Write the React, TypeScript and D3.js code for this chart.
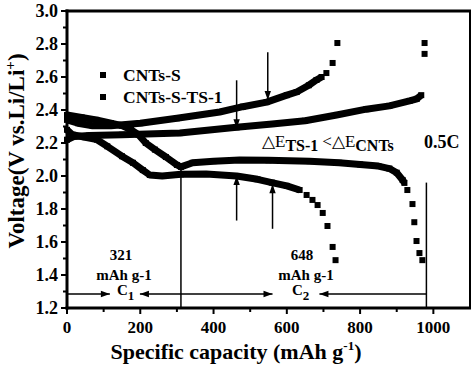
import React from 'react';
import * as d3 from 'd3';

const W = 474;
const H = 366;

// ---- data (capacity mAh/g, voltage V) ----
const xTicks = [0, 200, 400, 600, 800, 1000];
const xMinorTicks = [100, 300, 500, 700, 900];
const yTicks = [1.2, 1.4, 1.6, 1.8, 2.0, 2.2, 2.4, 2.6, 2.8, 3.0];
const yMinorTicks = [1.3, 1.5, 1.7, 1.9, 2.1, 2.3, 2.5, 2.7, 2.9];

// CNTs-S discharge
const cntsDisBand: [number, number][] = [
  [0, 2.28], [15, 2.25], [50, 2.235], [82, 2.22], [110, 2.18], [150, 2.12], [180, 2.08],
  [207, 2.036], [226, 2.006], [260, 2.0], [311, 2.01], [380, 2.012], [463, 2.0],
  [520, 1.98], [559, 1.96], [600, 1.94], [635, 1.915],
];
const cntsDisTail: [number, number][] = [
  [654, 1.885], [670, 1.855], [684, 1.824], [698, 1.776], [711, 1.697], [725, 1.57], [733, 1.49],
];
// CNTs-S charge
const cntsChgBand: [number, number][] = [
  [0, 2.34], [30, 2.32], [70, 2.305], [120, 2.305], [200, 2.32], [300, 2.35], [417, 2.388],
  [480, 2.42], [545, 2.448], [600, 2.49], [627, 2.509], [660, 2.55], [681, 2.582], [695, 2.6],
];
const cntsChgTail: [number, number][] = [
  [708, 2.624], [725, 2.685], [738, 2.806],
];
// CNTs-S-TS-1 discharge
const tsDisBand: [number, number][] = [
  [0, 2.37], [40, 2.355], [80, 2.34], [120, 2.32], [150, 2.305], [175, 2.28], [195, 2.25],
  [215, 2.2], [240, 2.16], [270, 2.115], [300, 2.067], [311, 2.055], [343, 2.08], [400, 2.09],
  [471, 2.097], [550, 2.095], [662, 2.09], [743, 2.08], [800, 2.07], [850, 2.06], [880, 2.045],
  [900, 2.02], [916, 1.976], [921, 1.958],
];
const tsDisTail: [number, number][] = [
  [929, 1.915], [943, 1.83], [948, 1.72], [954, 1.606], [962, 1.533], [970, 1.49],
];
// CNTs-S-TS-1 charge
const tsChgBand: [number, number][] = [
  [0, 2.22], [20, 2.24], [60, 2.245], [150, 2.25], [308, 2.26], [463, 2.295], [560, 2.315],
  [650, 2.335], [736, 2.37], [817, 2.405], [880, 2.425], [935, 2.455], [955, 2.468], [967, 2.49],
];
const tsChgTail: [number, number][] = [
  [976, 2.74], [976, 2.806],
];

const legendLabels = ['CNTs-S', 'CNTs-S-TS-1'];

// vertical marker arrows: [capacity, fromV, toV]
const arrows: [number, number, number][] = [
  [463, 2.58, 2.29],
  [548, 2.75, 2.46],
  [463, 1.73, 2.0],
  [561, 1.68, 1.95],
];
// capacity boundary lines
const boundaries: [number, number][] = [
  [311, 2.06],
  [981, 1.96],
];
// horizontal capacity arrows: [from, to] at V = 1.285
const capArrowV = 1.285;
const capArrows: [number, number][] = [
  [0, 117],
  [311, 199],
  [311, 561],
  [981, 689],
];

export default function App() {
  const x = d3.scaleLinear().domain([0, 1100]).range([67, 470]);
  const y = d3.scaleLinear().domain([1.2, 3.0]).range([308, 11]);
  const line = d3
    .line<[number, number]>()
    .x((d) => x(d[0]))
    .y((d) => y(d[1]));

  const bands = [cntsDisBand, cntsChgBand, tsDisBand, tsChgBand];
  const dots = [
    ...cntsDisBand, ...cntsDisTail, ...cntsChgBand, ...cntsChgTail,
    ...tsDisBand, ...tsDisTail, ...tsChgBand, ...tsChgTail,
  ];
  const sq = 6;
  const font = '"Liberation Serif", "Times New Roman", serif';

  const arrowHead = (tx: number, ty: number, dir: 'up' | 'down' | 'left' | 'right', key: string) => {
    const L = 9;
    const h = 3.2;
    let pts = '';
    if (dir === 'down') pts = `${tx},${ty} ${tx - h},${ty - L} ${tx + h},${ty - L}`;
    if (dir === 'up') pts = `${tx},${ty} ${tx - h},${ty + L} ${tx + h},${ty + L}`;
    if (dir === 'right') pts = `${tx},${ty} ${tx - L},${ty - h} ${tx - L},${ty + h}`;
    if (dir === 'left') pts = `${tx},${ty} ${tx + L},${ty - h} ${tx + L},${ty + h}`;
    return <polygon key={key} points={pts} fill="#000" />;
  };

  return (
    <svg
      width={W}
      height={H}
      style={{ position: 'absolute', left: 0, top: 0, background: '#fff' }}
      fontFamily={font}
    >
      <rect x={0} y={0} width={W} height={H} fill="#fff" />

      {/* bands */}
      {bands.map((b, i) => (
        <path key={'b' + i} d={line(b) || ''} fill="none" stroke="#000" strokeWidth={7} strokeLinejoin="round" />
      ))}
      {dots.map((d, i) => (
        <rect key={'d' + i} x={x(d[0]) - sq / 2} y={y(d[1]) - sq / 2} width={sq} height={sq} fill="#000" />
      ))}

      {/* boundary lines */}
      {boundaries.map((b, i) => (
        <line key={'bl' + i} x1={x(b[0])} x2={x(b[0])} y1={y(1.2)} y2={y(b[1])} stroke="#000" strokeWidth={1.5} />
      ))}

      {/* capacity arrows */}
      {capArrows.map((a, i) => {
        const dir = a[1] > a[0] ? 'right' : 'left';
        return (
          <g key={'ca' + i}>
            <line x1={x(a[0])} x2={x(a[1])} y1={y(capArrowV)} y2={y(capArrowV)} stroke="#000" strokeWidth={1.5} />
            {arrowHead(x(a[1]), y(capArrowV), dir, 'cah' + i)}
          </g>
        );
      })}

      {/* vertical arrows */}
      {arrows.map((a, i) => {
        const dir = a[2] < a[1] ? 'down' : 'up';
        return (
          <g key={'va' + i}>
            <line x1={x(a[0])} x2={x(a[0])} y1={y(a[1])} y2={y(a[2])} stroke="#000" strokeWidth={1.5} />
            {arrowHead(x(a[0]), y(a[2]), dir, 'vah' + i)}
          </g>
        );
      })}

      {/* frame */}
      <rect x={67} y={11} width={403} height={297} fill="none" stroke="#000" strokeWidth={2} />
      <line x1={67} x2={67} y1={9.5} y2={309.5} stroke="#000" strokeWidth={3} />
      <line x1={65.5} x2={471} y1={308} y2={308} stroke="#000" strokeWidth={3} />
      <line x1={65.5} x2={471} y1={11} y2={11} stroke="#000" strokeWidth={3} />

      {/* ticks */}
      {yTicks.map((t) => (
        <g key={'yt' + t}>
          <line x1={61} x2={67} y1={y(t)} y2={y(t)} stroke="#000" strokeWidth={2} />
          <text x={58} y={y(t)} dy="0.35em" textAnchor="end" fontSize={18} fontWeight="bold">
            {t.toFixed(1)}
          </text>
        </g>
      ))}
      {yMinorTicks.map((t) => (
        <line key={'ym' + t} x1={63} x2={67} y1={y(t)} y2={y(t)} stroke="#000" strokeWidth={2} />
      ))}
      {xTicks.map((t) => (
        <g key={'xt' + t}>
          <line x1={x(t)} x2={x(t)} y1={308} y2={314} stroke="#000" strokeWidth={2} />
          <text x={x(t)} y={333} textAnchor="middle" fontSize={17} fontWeight="bold">
            {t}
          </text>
        </g>
      ))}
      {xMinorTicks.map((t) => (
        <line key={'xm' + t} x1={x(t)} x2={x(t)} y1={308} y2={312} stroke="#000" strokeWidth={2} />
      ))}

      {/* axis titles */}
      <text x={236} y={359} textAnchor="middle" fontSize={22} fontWeight="bold">
        Specific capacity (mAh g<tspan dy={-9} fontSize={13}>-1</tspan>
        <tspan dy={9}>)</tspan>
      </text>
      <text transform="translate(24,151) rotate(-90)" textAnchor="middle" fontSize={23} fontWeight="bold">
        Voltage(V vs.Li/Li<tspan dy={-9} fontSize={15}>+</tspan>
        <tspan dy={9}>)</tspan>
      </text>

      {/* legend */}
      {legendLabels.map((l, i) => (
        <g key={'lg' + i}>
          <rect x={100} y={72 + i * 22} width={6} height={6} fill="#000" />
          <text x={123} y={81 + i * 22} fontSize={17.5} fontWeight="bold">
            {l}
          </text>
        </g>
      ))}

      {/* delta E annotation */}
      <text x={262} y={147} fontSize={17}>
        △E<tspan dy={4} fontSize={16} fontWeight="bold">TS-1</tspan>
        <tspan dy={-4} dx={4}>&lt;△E</tspan>
        <tspan dy={4} fontSize={16} fontWeight="bold">CNTs</tspan>
      </text>
      <text x={424} y={148} fontSize={18} fontWeight="bold">
        0.5C
      </text>

      {/* capacity labels */}
      <text x={121} y={260} textAnchor="middle" fontSize={15} fontWeight="bold">321</text>
      <text x={124} y={280} textAnchor="middle" fontSize={15} fontWeight="bold">mAh g-1</text>
      <text x={117} y={295} fontSize={15} fontWeight="bold">
        C<tspan dy={5} fontSize={13}>1</tspan>
      </text>
      <text x={302} y={260} textAnchor="middle" fontSize={15} fontWeight="bold">648</text>
      <text x={306} y={280} textAnchor="middle" fontSize={15} fontWeight="bold">mAh g-1</text>
      <text x={292} y={295} fontSize={15} fontWeight="bold">
        C<tspan dy={5} fontSize={13}>2</tspan>
      </text>
    </svg>
  );
}
